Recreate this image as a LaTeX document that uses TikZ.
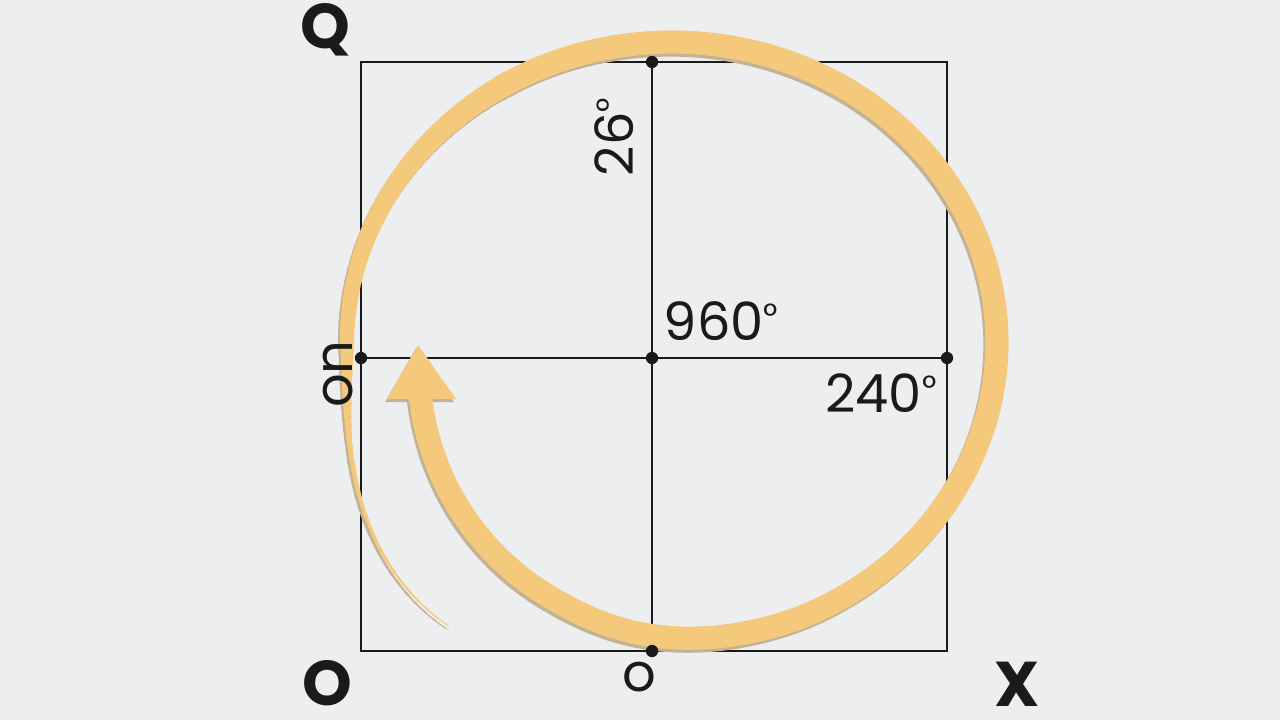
\documentclass[tikz,border=0pt]{standalone}
\usepackage{fontspec}
\setmainfont{Poppins}
\definecolor{bg}{HTML}{EDEEF0}
\definecolor{ringc}{HTML}{F5C97C}
\definecolor{shadowc}{HTML}{C2B397}
\definecolor{ink}{HTML}{1A1A1A}
\newcommand{\dg}{\raisebox{6.5pt}{\fontsize{20}{20}\selectfont °}}
\newcommand{\spiral}[1]{%
  \foreach \a in {126,128,...,238}{%
    \pgfmathsetmacro\lw{(1+4*min(1,(\a-126)/34)+9*max(0,min(1,(\a-160)/20))+9*max(0,min(1,(\a-180)/60)))*0.567}%
    \pgfmathsetmacro\b{\a+2.6}%
    \draw[#1, line width=\lw pt, line cap=round] plot[domain=\a:\b, samples=3] ({px(\x)},{py(\x)});
  }
  \draw[#1, line width=13.2pt, line join=round] plot[domain=238:534.5, samples=180] ({px(\x)},{py(\x)});
  \fill[#1] (418,345) -- (456,399) -- (387,399) -- cycle;
}
\begin{document}
\begin{tikzpicture}[x=0.02cm,y=-0.02cm,
  declare function={uu(\t)=max(0,min(1,(180-\t)/54));
    S(\t)=1+0.17*uu(\t)*uu(\t)*(3-2*uu(\t));
    vv(\t)=max(0,min(1,(\t-422)/60));
    bb(\t)=vv(\t)*vv(\t)*(3-2*vv(\t));
    rc(\t)=262+0.09*(\t-460);
    px(\t)=(1-bb(\t))*(672+325*S(\t)*cos(\t))+bb(\t)*(688+rc(\t)*cos(\t));
    py(\t)=(1-bb(\t))*(342+300*S(\t)*sin(\t))+bb(\t)*(372+rc(\t)*sin(\t));},
  frame/.style={draw=ink, line width=1.4pt},
  dot/.style={circle, fill=ink, inner sep=0pt, minimum size=7pt},
  lbl/.style={font=\fontsize{30}{36}\selectfont, text=ink, inner sep=0pt},
  axislbl/.style={font=\fontsize{36}{42}\selectfont\bfseries, text=ink, inner sep=0pt}]
\fill[bg] (0,0) rectangle (1280,720);
\useasboundingbox (0,0) rectangle (1280,720);
% frame and cross
\coordinate (TL) at (361,62);
\coordinate (BR) at (947,651);
\coordinate (pT) at (652,62);
\coordinate (pB) at (652,651);
\coordinate (pL) at (361,358);
\coordinate (pR) at (947,358);
\coordinate (pC) at (652,358);
\draw[frame] (TL) rectangle (BR);
\draw[frame] (pT) -- (pB);
\draw[frame] (pL) -- (pR);
% spiral arrow
\begin{scope}[shift={(-2,3)}]
  \spiral{shadowc}
\end{scope}
\spiral{ringc}
% dots
\node[dot] (dT) at (pT) {};
\node[dot] (dB) at (pB) {};
\node[dot] (dL) at (pL) {};
\node[dot] (dR) at (pR) {};
\node[dot] (dC) at (pC) {};
% labels
\node[lbl, rotate=90] (l26) at (614,137) {26\dg};
\node[lbl] (l960) at (721,321) {960\dg};
\node[lbl] (l240) at (881,393) {240\dg};
\node[lbl, rotate=90] (lon) at (338,374) {on};
\node[lbl] (lo) at (639,677) {o};
\node[axislbl] (Q) at (325,30) {Q};
\node[axislbl] (O) at (327,683) {O};
\node[axislbl] (X) at (1017,684) {X};
\end{tikzpicture}
\end{document}
